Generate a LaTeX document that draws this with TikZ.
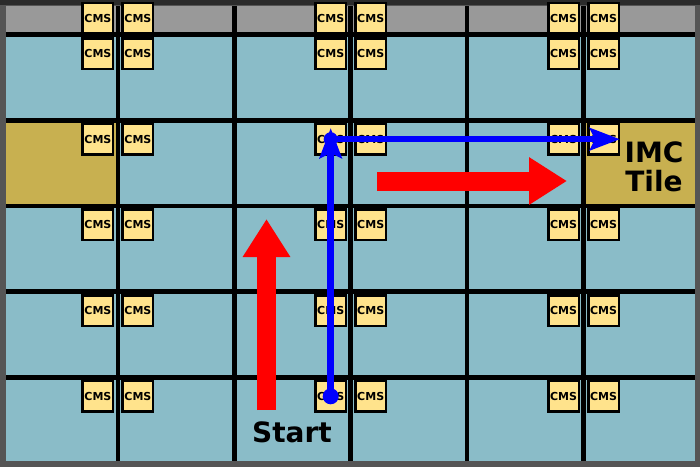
\documentclass[tikz,border=0pt]{standalone}
\usepackage{fontspec}
\setmainfont{DejaVu Sans}
\usetikzlibrary{arrows.meta}
\definecolor{cellblue}{HTML}{8ABCC8}
\definecolor{tilegold}{HTML}{C8B050}
\definecolor{cmsfill}{HTML}{FFE38C}
\definecolor{topgray}{HTML}{999999}
\definecolor{framegray}{HTML}{555555}
\definecolor{darkband}{HTML}{2B2B2B}
\tikzset{
  cms/.style={draw=black, line width=2.5pt, fill=cmsfill, minimum width=30.5pt,
    minimum height=30.5pt, inner sep=0pt, font=\fontsize{11}{13}\selectfont\bfseries},
  gridline/.style={line width=4.7pt, draw=black},
  redarrow/.style={draw=red, line width=19pt, -{Triangle[length=38pt,width=45pt]}},
  bluearrow/.style={draw=blue, line width=6.5pt, -{Stealth[length=30pt,width=22pt,inset=5pt]}},
  bluedot/.style={circle, fill=blue, inner sep=0pt},
  bigtext/.style={inner sep=0pt, font=\fontsize{28}{29}\selectfont\bfseries}
}
\begin{document}
\begin{tikzpicture}[x=1pt,y=-1pt]
\useasboundingbox (0,0) rectangle (700,466);
\clip (0,0) rectangle (700,466);
% cells
\fill[cellblue] (0,0) rectangle (700,466);
\fill[topgray] (0,0) rectangle (700,34.5);
\fill[tilegold] (0,120.2) rectangle (117.9,205.9);
\fill[tilegold] (583.5,120.2) rectangle (700,205.9);
% grid
\foreach \y in {34.5,120.2,205.9,291.6,377.3} \draw[gridline] (0,\y) -- (700,\y);
\foreach \x in {117.9,234.3,350.7,467.1,583.5} \draw[gridline] (\x,0) -- (\x,466);
% frame
\draw[framegray, line width=11pt] (0,0) rectangle (700,466);
\fill[darkband] (0,0) rectangle (700,5);
% CMS boxes
\foreach \r/\y in {0/18,1/53.5,2/139.2,3/224.9,4/310.6,5/396.3}{
  \foreach \c/\x in {1/117.9,3/350.7,5/583.5}{
    \node[cms] (cms-\r-\c-a) at (\x-20,\y) {CMS};
    \node[cms] (cms-\r-\c-b) at (\x+20,\y) {CMS};
  }
}
% red arrows
\coordinate (rs1) at (266.5,410);
\coordinate (rt1) at (266.5,219);
\coordinate (rs2) at (377,181);
\coordinate (rt2) at (567,181);
\draw[redarrow] (rs1) -- (rt1);
\draw[redarrow] (rs2) -- (rt2);
% labels
\node[bigtext, anchor=base] (start) at (292,442) {Start};
\node[bigtext, align=center] (imc) at (654,167) {IMC\\Tile};
% blue route
\node[bluedot, minimum size=16pt] (d1) at (cms-5-3-a.center) {};
\node[bluedot, minimum size=14pt] (d2) at (cms-2-3-a.center) {};
\coordinate (uptip) at (330.7,128);
\coordinate (righttip) at (620,139.2);
\draw[bluearrow] (d2.center) -- (righttip);
\draw[bluearrow] (d1.center) -- (uptip);
\end{tikzpicture}
\end{document}
